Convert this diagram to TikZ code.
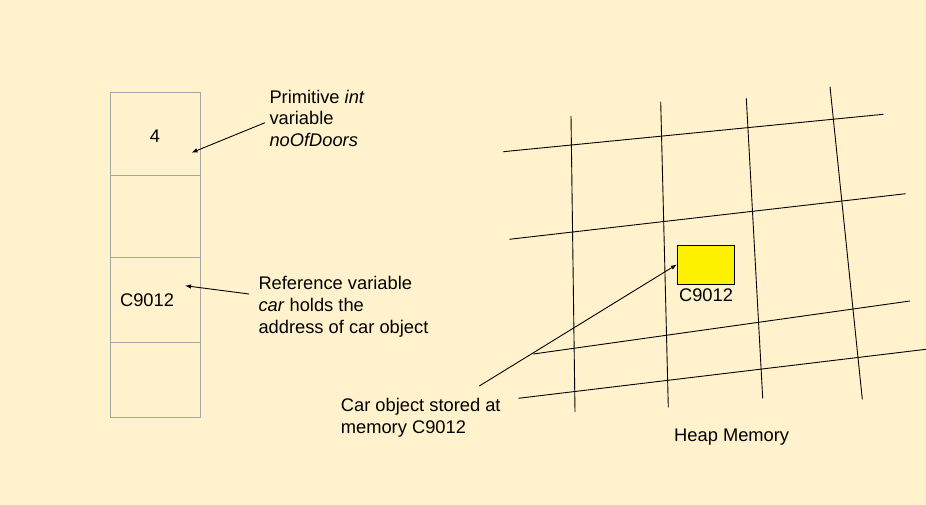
\documentclass[tikz,border=0pt]{standalone}
\usepackage{fontspec}
\setmainfont{Liberation Sans}
\usepackage{tikz}
\usetikzlibrary{positioning,arrows.meta}
\definecolor{bgyel}{HTML}{FFF2CC}
\definecolor{cellgray}{HTML}{A6A6A6}
\tikzset{
	cell/.style={draw=cellgray,line width=0.8pt,minimum width=89.6pt,inner sep=0pt},
	txt/.style={inner sep=0pt,align=left,font=\fontsize{18.3}{21.7}\selectfont},
	ptr/.style={line width=0.9pt,-{Latex[length=6pt,width=4.5pt]}}
}
\begin{document}
\begin{tikzpicture}[x=1pt,y=-1pt]
		\fill[bgyel](0,0) rectangle (926,505);
		\useasboundingbox (0,0) rectangle (926,505);
		
		\node[cell,minimum height=83pt](c0)at(155.5,133.8) {};
		\node[cell,minimum height=82pt](c1)at(155.5,216.3) {};
		\node[cell,minimum height=85pt](c2)at(155.5,299.8) {};
		\node[cell,minimum height=75pt](c3)at(155.5,379.8) {};
		\node[txt](four)at(155,136) {4};
		\node[txt](addr)at(147,300) {C9012};
		
		\node[txt,anchor=west](lblint)at(269.3,118.3) {Primitive \textit{int}\\variable\\\textit{noOfDoors}};
		\node[txt,anchor=west](lblref)at(258.3,306.7) {Reference variable\\\textit{car} holds the\\address of car object};
		\node[txt,anchor=west](lblobj)at(340.7,417.5) {Car object stored at\\memory C9012};
		
		\foreach \xa/\ya/\xb/\yb in {571/116/575/412,660.7/101.7/668.3/407.3,746.3/98.3/762.7/398.3,830/86.7/862.3/399.3,503.3/151.7/883.3/114.3,509.3/239.3/905.7/193.7,533.3/354/910/301,518.3/398.3/926/349.3}
			\draw[line width=0.9pt] (\xa,\ya) -- (\xb,\yb);
		
		\node[draw,fill=yellow,line width=0.9pt,minimum width=57.4pt,minimum height=39pt,inner sep=0pt](obj)at(706,264.5) {};
		\node[txt,below=4.5pt of obj](objaddr) {C9012};
		\node[txt](heap)at(731.7,437.3) {Heap Memory};
		
		\coordinate (intfrom) at (265,122.7);
		\coordinate (intto) at (191.5,152.7);
		\coordinate (reffrom) at (249,294);
		\coordinate (refto) at (185,285.7);
		\coordinate (objfrom) at (479.3,386);
		\draw[ptr](intfrom) -- (intto);
		\draw[ptr](reffrom) -- (refto);
		\draw[ptr](objfrom) -- (obj.west);
	\end{tikzpicture}
\end{document}
